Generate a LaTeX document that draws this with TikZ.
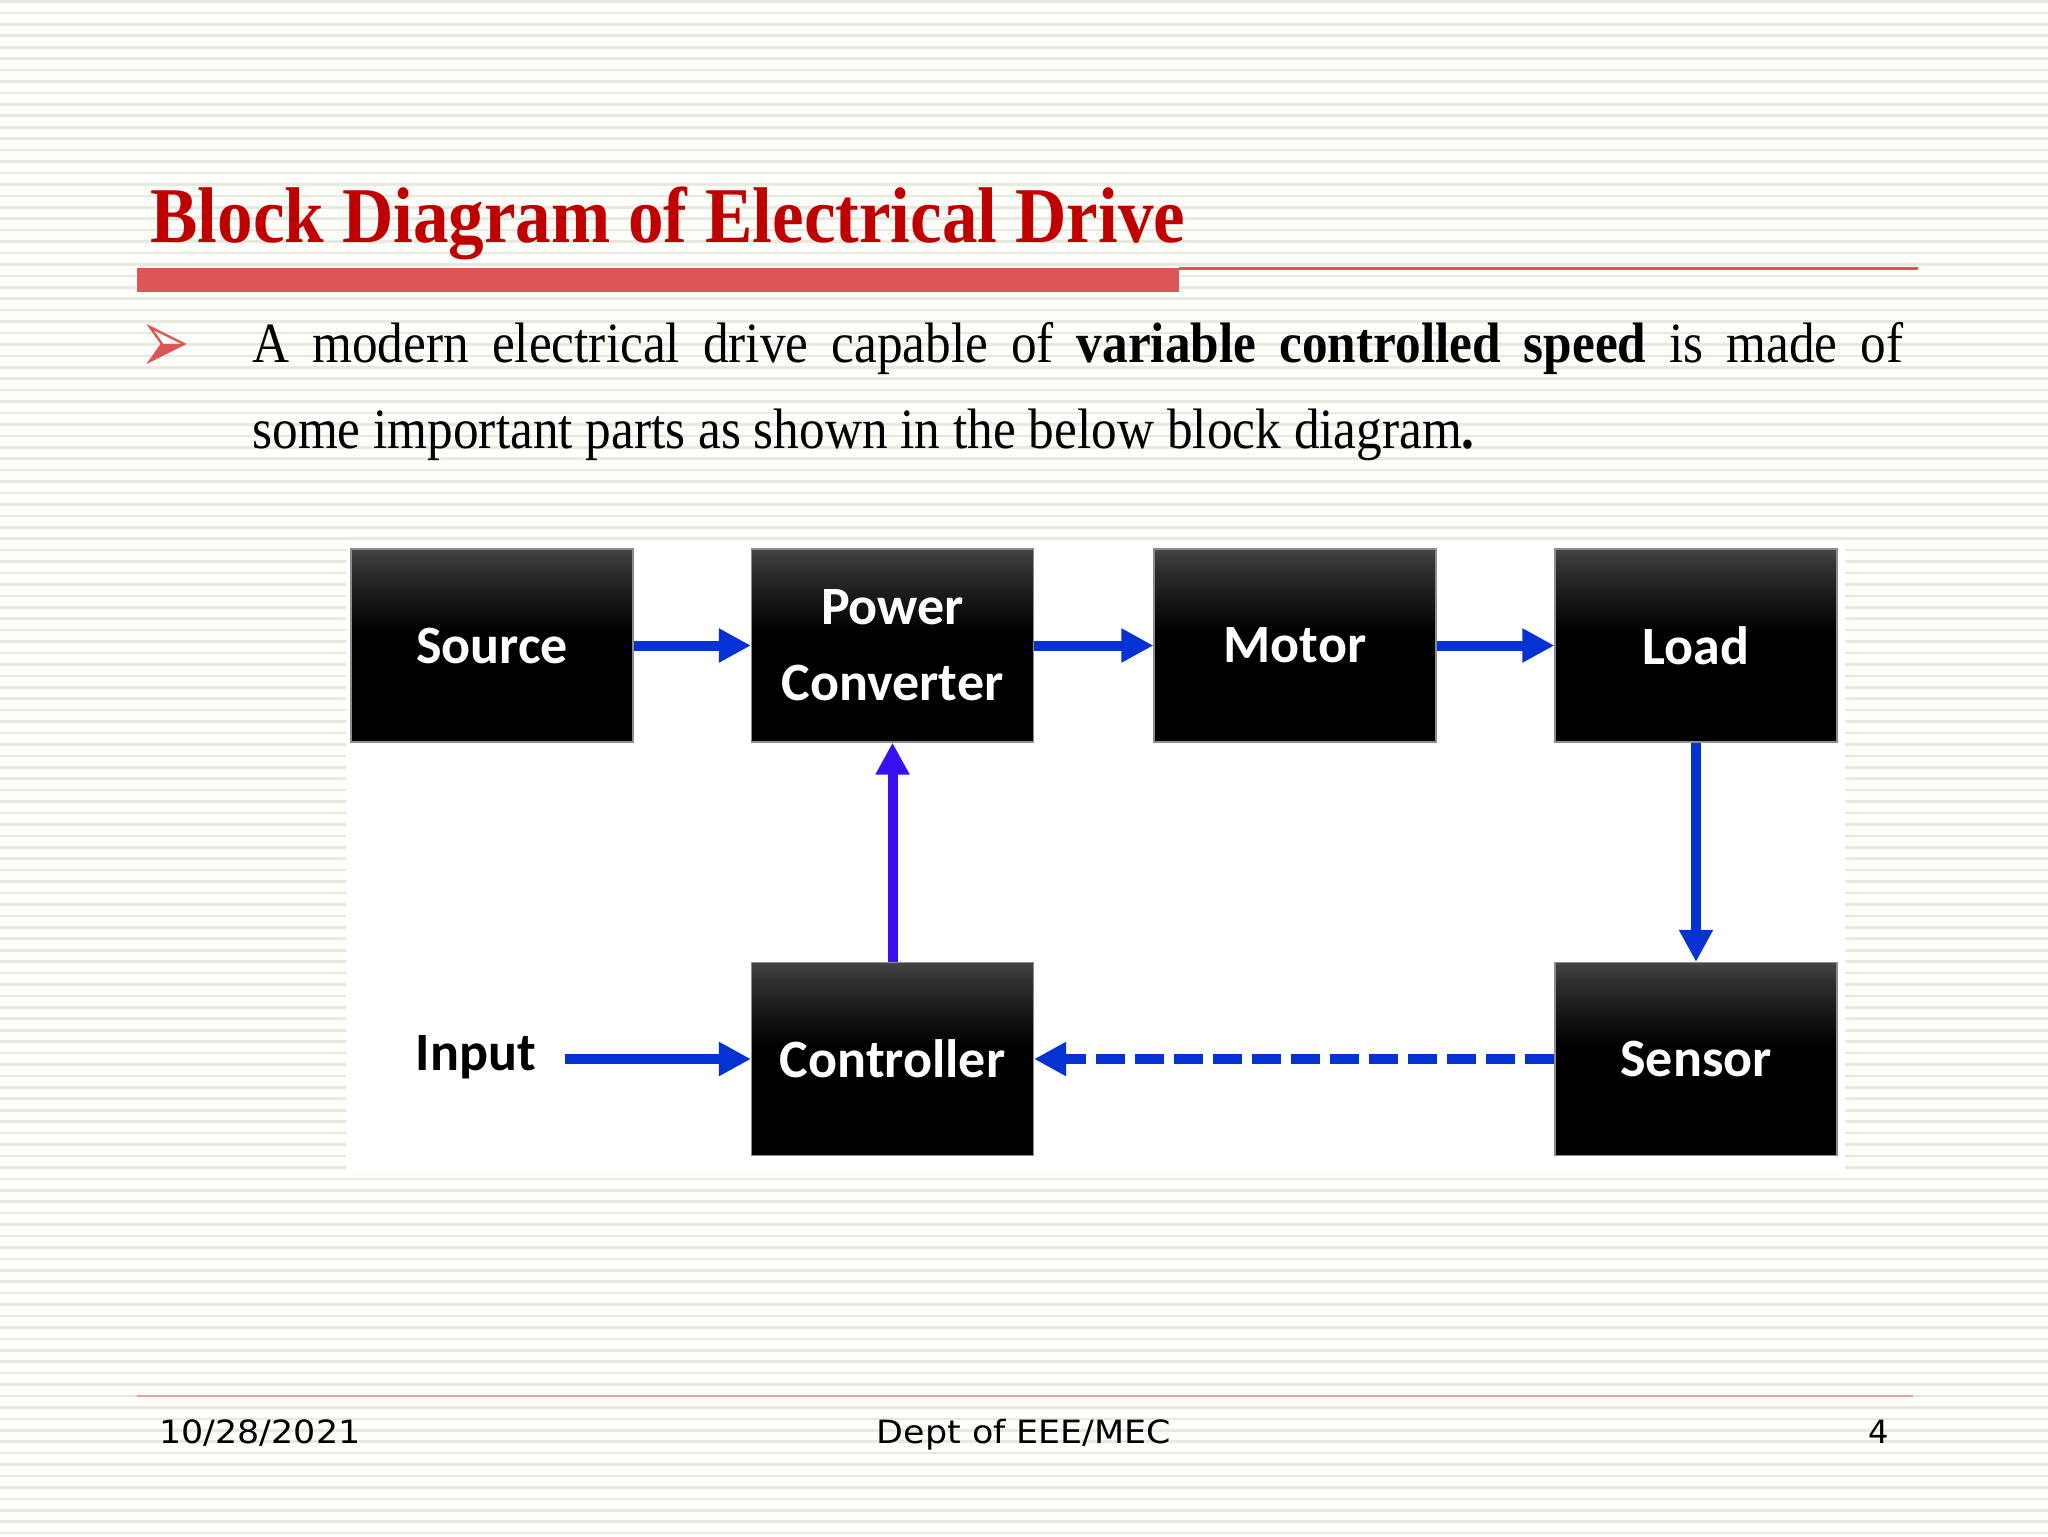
\documentclass[tikz,border=0pt]{standalone}
\usepackage{fontspec}
\setmainfont{Liberation Serif}
\newfontfamily\boxfont{Carlito}
\newfontfamily\footfont{DejaVu Sans}
\usetikzlibrary{arrows.meta,calc}
\definecolor{titlered}{RGB}{192,0,0}
\definecolor{barred}{RGB}{220,86,86}
\definecolor{stripe}{RGB}{232,232,222}
\definecolor{bgcol}{RGB}{254,254,250}
\definecolor{arrblue}{RGB}{5,50,210}
\definecolor{arrviolet}{RGB}{55,15,240}
\definecolor{footline}{RGB}{232,160,160}
\tikzset{
  blockbox/.style={rectangle, fill=black, draw=black!45, line width=0.6pt,
    minimum width=141pt, minimum height=96.5pt, inner sep=0pt,
    text=white, font=\boxfont\bfseries\fontsize{27}{38}\selectfont, align=center,
    path picture={
      \foreach \k in {0,...,29}{
        \pgfmathsetmacro\shadeval{73+27*(\k/29)^0.8}
        \fill[black!\shadeval]
          ($(path picture bounding box.north west)!{\k/30*0.44}!(path picture bounding box.south west)$)
          rectangle
          ($(path picture bounding box.north east)!{(\k+1.3)/30*0.44}!(path picture bounding box.south east)$);
      }}},
  arr/.style={line width=5pt, draw=arrblue, -{Triangle[length=16pt,width=16pt]}},
  txt/.style={inner sep=0pt, anchor=base west}
}
\begin{document}
\begin{tikzpicture}[x=0.5pt,y=-0.5pt]
\useasboundingbox (0,0) rectangle (2048,1536);
% background
\fill[bgcol] (0,0) rectangle (2048,1536);
\foreach \i in {0,...,134}{
  \fill[stripe] (0,{0.2+\i*11.43}) rectangle (2048,{2.8+\i*11.43});
}
\fill[white] (346,541) rectangle (1845,1172);
% title
\node[txt, text=titlered, font=\bfseries\fontsize{39.5}{44}\selectfont] (title) at (150,242) {\scalebox{0.9}[1]{Block Diagram of Electrical Drive}};
\fill[barred] (137,268) rectangle (1179,292);
\fill[barred] (1179,267) rectangle (1918,269.5);
% bullet
\coordinate (bA) at (150,327);
\coordinate (bT) at (184,344);
\coordinate (bB) at (150,361);
\coordinate (bN) at (162,344);
\fill[barred] (bN) -- (bT) -- (bB) -- cycle;
\draw[barred, line width=1.2pt, line join=miter] (bA) -- (bT) -- (bB) -- (bN) -- cycle;
% body text
\node[txt, font=\fontsize{28.5}{34}\selectfont] (l1) at (252,362) {\scalebox{0.9}[1]{\makebox[917.2pt][s]{A modern electrical drive capable of \textbf{variable controlled speed} is made of}}};
\node[txt, font=\fontsize{28.5}{34}\selectfont] (l2) at (252,448) {\scalebox{0.9}[1]{some important parts as shown in the below block diagram\textbf{.}}};
% blocks
\node[blockbox] (src) at (492,645.5) {Source};
\node[blockbox] (pc) at (892.5,645.5) {Power\\Converter};
\node[blockbox] (mot) at (1295,645.5) {Motor};
\node[blockbox] (load) at (1696,645.5) {Load};
\node[blockbox] (ctrl) at (892.5,1059) {Controller};
\node[blockbox] (sens) at (1696,1059) {Sensor};
\node[inner sep=0pt, font=\boxfont\bfseries\fontsize{27}{36}\selectfont] (inp) at (476,1057) {Input};
\coordinate (inS) at ([xshift=14.5pt]inp.east |- ctrl.west);
% connectors
\draw[arr] (src) -- (pc);
\draw[arr] (pc) -- (mot);
\draw[arr] (mot) -- (load);
\draw[arr] (load) -- (sens);
\draw[arr, draw=arrviolet] (ctrl) -- (pc);
\draw[arr, dash pattern=on 14.5pt off 5pt] (sens) -- (ctrl);
\draw[arr] (inS) -- (ctrl.west);
% footer
\fill[footline] (137,1395) rectangle (1913,1397);
\node[txt, font=\footfont\fontsize{16}{20}\selectfont] (date) at (159,1443) {\scalebox{1.09}[1]{10/28/2021}};
\node[inner sep=0pt, anchor=base, font=\footfont\fontsize{16}{20}\selectfont] (dept) at (1024,1443) {\scalebox{1.09}[1]{Dept of EEE/MEC}};
\node[inner sep=0pt, anchor=base east, font=\footfont\fontsize{16}{20}\selectfont] (pg) at (1889,1443) {4};
\end{tikzpicture}
\end{document}
